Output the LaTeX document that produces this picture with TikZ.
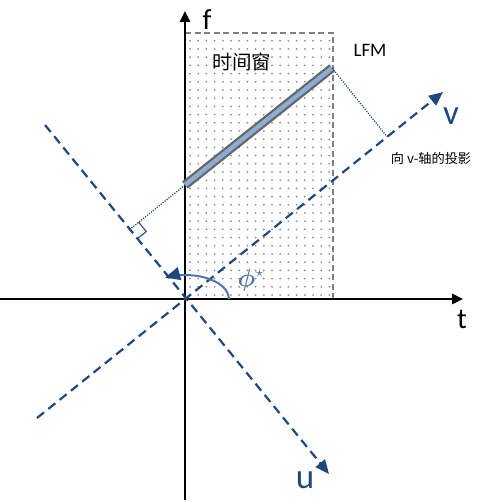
\documentclass[tikz,border=0pt]{standalone}
\usepackage{bm}
\usepackage{fontspec}
\setmainfont{Carlito}
\newfontfamily\cjk{Noto Sans CJK SC}
\usetikzlibrary{arrows.meta,calc}
\definecolor{dblue}{RGB}{31,73,125}
\definecolor{mblue}{RGB}{79,119,170}
\definecolor{lblue}{RGB}{141,172,214}
\definecolor{wingray}{RGB}{128,128,128}
\tikzset{
  axis/.style={line width=2.6pt,black,-{Triangle[length=11pt,width=10pt]}},
  dashaxis/.style={line width=2.2pt,dblue,dash pattern=on 9pt off 5.5pt,-{Triangle[length=14pt,width=12pt]}},
  projline/.style={line width=1.2pt,dblue,dash pattern=on 1.2pt off 1.3pt},
  lbl/.style={inner sep=0pt,font=\fontsize{29}{31}\selectfont},
  bluelbl/.style={lbl,text=dblue,font=\fontsize{35}{37}\selectfont}
}
\begin{document}
\begin{tikzpicture}[x=1pt,y=1pt]
\useasboundingbox (0,0) rectangle (477,502);
\coordinate (O) at (185,203);
\coordinate (tS) at (0,203);
\coordinate (tE) at (463,203);
\coordinate (fS) at (185,2);
\coordinate (fE) at (185,491);
\coordinate (vS) at (37,84);
\coordinate (vE) at (443,410);
\coordinate (uS) at (45,377);
\coordinate (uE) at (329,28);
\coordinate (W1) at (185,203);
\coordinate (W2) at (333,469);
\coordinate (L1) at (185,317);
\coordinate (L2) at (332,434);
% time window dots
\foreach \i in {0,...,17}{\foreach \j in {0,...,31}{\fill[wingray!90] (190+\i*8.2,207+\j*8.2) circle (1.0);}}
\draw[wingray,line width=1.8pt,dash pattern=on 6pt off 3.5pt] (W1) rectangle (W2);
% axes
\draw[axis] (tS) -- (tE);
\draw[axis] (fS) -- (fE);
\node[lbl] (flab) at (207,482) {f};
\node[lbl] (tlab) at (462,183) {t};
% rotated axes
\draw[dashaxis] (vS) -- (vE);
\draw[dashaxis] (uS) -- (uE);
\node[bluelbl] (vlab) at (451,386) {v};
\node[bluelbl] (ulab) at (305,22) {u};
% LFM
\draw[line width=9pt,black!60] (L1) -- (L2);
\draw[line width=4.5pt,lblue] (L1) -- (L2);
\node[inner sep=0pt,font=\fontsize{19}{21}\selectfont] (lfm) at (370,452) {LFM};
\node[inner sep=0pt,font=\cjk\fontsize{19.5}{21}\selectfont] (win) at (242,440) {时间窗};
% projections
\coordinate (F1) at ($(O)!(L2)!(vE)$);
\coordinate (F2) at ($(O)!(L1)!(uS)$);
\draw[projline] (L2) -- (F1);
\draw[projline] (L1) -- (F2);
\coordinate (RA) at ($(F2)!12pt!(L1)$);
\coordinate (RB) at ($(F2)!12pt!(uE)$);
\draw[dblue,line width=1.1pt] (RA) -- ($(RA)+(RB)-(F2)$) -- (RB);
\node[inner sep=0pt,font=\cjk\fontsize{13.2}{15}\selectfont] (projlab) at (431,344) {向 v-轴的投影};
% angle
\draw[mblue,line width=2pt,-{Triangle[length=15pt,width=13pt,color=dblue]}] ($(O)+(44,0)$) arc[start angle=0,end angle=117,x radius=44,y radius=24];
\node[inner sep=0pt,text=mblue,font=\fontsize{27}{29}\selectfont] (phi) at (251,222) {$\bm{\phi}^{\star}$};
\end{tikzpicture}
\end{document}
